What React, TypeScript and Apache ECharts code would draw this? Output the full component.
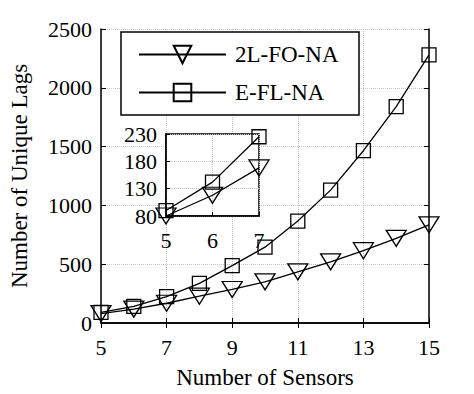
import React, { useEffect, useRef } from "react";
import * as echarts from "echarts";

const categories = ["5", "6", "7", "8", "9", "10", "11", "12", "13", "14", "15"];
const foNa = [80, 118, 168, 228, 285, 350, 435, 520, 615, 720, 835];
const eflNa = [90, 142, 225, 337, 488, 645, 867, 1130, 1465, 1840, 2280];
const insetCategories = ["5", "6", "7"];
const insetFoNa = [80, 118, 168];
const insetEflNa = [90, 142, 225];
const insetYTicks = [80, 130, 180, 230];

const FONT = "'Liberation Serif', 'Times New Roman', serif";
const FS = 22;

export default function App() {
  const ref = useRef<HTMLDivElement>(null);
  useEffect(() => {
    if (!ref.current) return;
    const chart = echarts.init(ref.current, null, { renderer: "svg" });
    const axisLine = { show: true, lineStyle: { color: "#000", width: 1.5 } };
    const split = { show: true, lineStyle: { color: "#c4c4c4", type: "dotted", width: 1 } };
    const label = { color: "#000", fontFamily: FONT, fontSize: FS, formatter: (v: any) => String(v) };
    const triStyle = {
      symbol: "triangle",
      symbolSize: [20, 16],
      symbolRotate: 180,
      itemStyle: { color: "rgba(0,0,0,0)", borderColor: "#000", borderWidth: 1.3 },
      lineStyle: { color: "#000", width: 1.3 },
    };
    const sqStyle = {
      symbol: "rect",
      symbolSize: 14,
      itemStyle: { color: "rgba(0,0,0,0)", borderColor: "#000", borderWidth: 1.3 },
      lineStyle: { color: "#000", width: 1.3 },
    };
    chart.setOption({
      animation: false,
      backgroundColor: "#fff",
      textStyle: { fontFamily: FONT },
      grid: [
        { left: 98, right: 45, top: 29, bottom: 68 },
        {
          left: 166, top: 134, width: 93, height: 82, show: true,
          backgroundColor: "#fff", borderColor: "#000", borderWidth: 1.5, z: 5,
        },
      ],
      legend: {
        left: 138, top: 43, orient: "vertical", itemWidth: 87, itemHeight: 22,
        itemGap: 15, padding: 0, z: 9,
        textStyle: { color: "#000", fontFamily: FONT, fontSize: 23, padding: [0, 0, 0, 4] },
        data: ["2L-FO-NA", "E-FL-NA"],
      },
      graphic: [
        {
          type: "rect", z: 8,
          shape: { x: 121, y: 32, width: 238, height: 83 },
          style: { fill: "#fff", stroke: "#000", lineWidth: 1.5 },
        },
      ],
      xAxis: [
        {
          type: "category", gridIndex: 0, data: categories, boundaryGap: false,
          axisLine, axisTick: { show: true, inside: true, length: 5, interval: 1, lineStyle: { color: "#000" } },
          axisLabel: { ...label, interval: 1, margin: 13 },
          splitLine: { ...split, interval: 1 },
          name: "Number of Sensors", nameLocation: "middle", nameGap: 43,
          nameTextStyle: { color: "#000", fontFamily: FONT, fontSize: 23 },
        },
        {
          type: "category", gridIndex: 0, data: categories, boundaryGap: false, position: "top",
          axisLine, axisTick: { show: true, inside: true, length: 5, interval: 1, lineStyle: { color: "#000" } },
          axisLabel: { show: false }, splitLine: { show: false },
        },
        {
          type: "category", gridIndex: 1, data: insetCategories, boundaryGap: false, z: 6,
          axisLine, axisTick: { show: true, inside: true, length: 4, lineStyle: { color: "#000" } },
          axisLabel: { ...label, margin: 13 },
          splitLine: split,
        },
      ],
      yAxis: [
        {
          type: "value", gridIndex: 0, min: 0, max: 2500, interval: 500,
          axisLine, axisTick: { show: true, inside: true, length: 5, lineStyle: { color: "#000" } },
          axisLabel: { ...label, margin: 9 },
          splitLine: split,
          name: "Number of Unique Lags", nameLocation: "middle", nameGap: 70,
          nameTextStyle: { color: "#000", fontFamily: FONT, fontSize: 23 },
        },
        {
          type: "value", gridIndex: 0, min: 0, max: 2500, interval: 500, position: "right",
          axisLine, axisTick: { show: true, inside: true, length: 5, lineStyle: { color: "#000" } },
          axisLabel: { show: false }, splitLine: { show: false },
        },
        {
          type: "value", gridIndex: 1, min: 80, max: 230, z: 6,
          axisLine, axisTick: { show: true, inside: true, length: 4, customValues: insetYTicks, lineStyle: { color: "#000" } },
          axisLabel: { ...label, margin: 9, customValues: insetYTicks },
          splitLine: split,
        },
      ],
      series: [
        { name: "2L-FO-NA", type: "line", xAxisIndex: 0, yAxisIndex: 0, data: foNa, z: 2, ...triStyle },
        { name: "E-FL-NA", type: "line", xAxisIndex: 0, yAxisIndex: 0, data: eflNa, z: 2, ...sqStyle },
        { name: "2L-FO-NA", type: "line", xAxisIndex: 2, yAxisIndex: 2, data: insetFoNa, z: 7, clip: false, ...triStyle },
        { name: "E-FL-NA", type: "line", xAxisIndex: 2, yAxisIndex: 2, data: insetEflNa, z: 7, clip: false, ...sqStyle },
      ],
    });
    return () => chart.dispose();
  }, []);
  return <div ref={ref} style={{ width: 474, height: 394, position: "absolute", left: 0, top: 0 }} />;
}
